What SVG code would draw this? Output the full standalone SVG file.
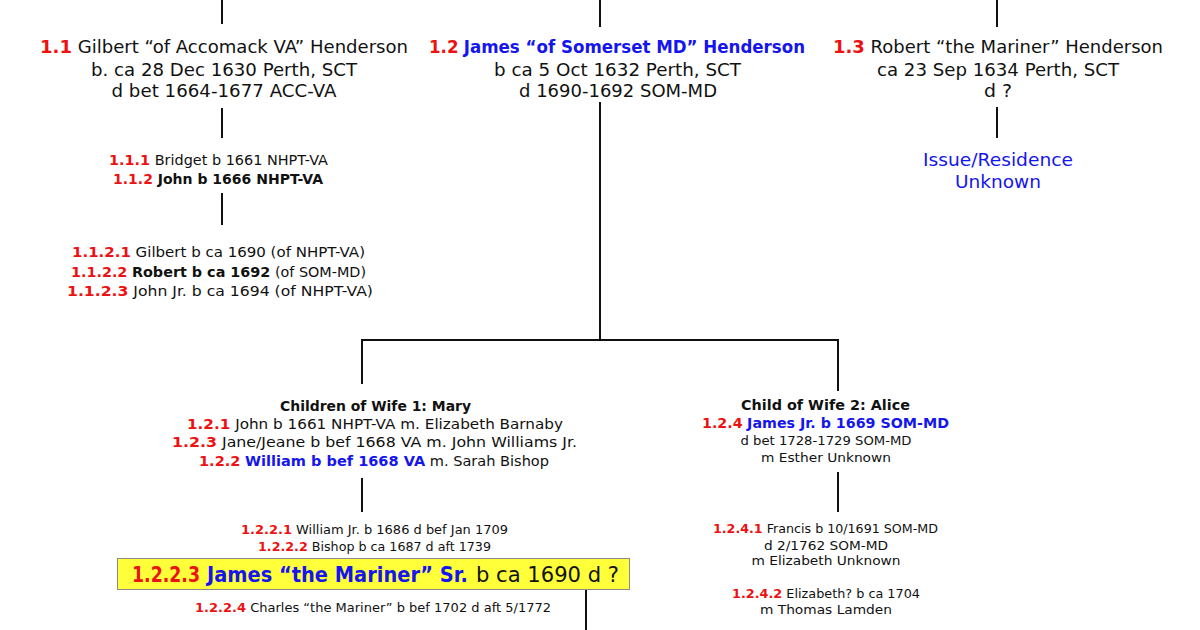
<svg xmlns="http://www.w3.org/2000/svg" width="1200" height="630" viewBox="0 0 1200 630">
<style>
text{font-family:"DejaVu Sans","Liberation Sans",sans-serif;fill:#111;text-anchor:middle}
.l{font-size:17px}
.m{font-size:14px}
.s{font-size:13px}
.x{font-size:21px;text-anchor:start}
.b{font-weight:700}
.r{fill:#ee1111;font-weight:700}
.u{fill:#1515ee}
.ub{fill:#1515ee;font-weight:700}
.ln{stroke:#111;stroke-width:2;fill:none}
</style>
<rect width="1200" height="630" fill="#fff"/>
<g id="connectors">
<line class="ln" x1="222" y1="0" x2="222" y2="24"/>
<line class="ln" x1="600" y1="0" x2="600" y2="27"/>
<line class="ln" x1="997" y1="0" x2="997" y2="27"/>
<line class="ln" x1="222" y1="108" x2="222" y2="138"/>
<line class="ln" x1="222" y1="193" x2="222" y2="225"/>
<line class="ln" x1="997" y1="107" x2="997" y2="138"/>
<path class="ln" d="M600 102V340M362 384V340H838V391"/>
<line class="ln" x1="362" y1="478" x2="362" y2="512"/>
<line class="ln" x1="838" y1="472" x2="838" y2="512"/>
<line class="ln" x1="586" y1="590" x2="586" y2="630"/>
</g>
<g id="n1_1">
<text class="l" x="224" y="53" textLength="368" lengthAdjust="spacingAndGlyphs"><tspan class="r">1.1</tspan> Gilbert “of Accomack VA” Henderson</text>
<text class="l" x="224" y="76" textLength="266" lengthAdjust="spacingAndGlyphs">b. ca 28 Dec 1630 Perth, SCT</text>
<text class="l" x="224" y="97" textLength="225" lengthAdjust="spacingAndGlyphs">d bet 1664-1677 ACC-VA</text>
</g>
<g id="n1_2">
<text class="l" x="617" y="53" textLength="376" lengthAdjust="spacingAndGlyphs"><tspan class="r">1.2</tspan> <tspan class="ub">James “of Somerset MD” Henderson</tspan></text>
<text class="l" x="617.5" y="76" textLength="247" lengthAdjust="spacingAndGlyphs">b ca 5 Oct 1632 Perth, SCT</text>
<text class="l" x="618" y="97" textLength="198" lengthAdjust="spacingAndGlyphs">d 1690-1692 SOM-MD</text>
</g>
<g id="n1_3">
<text class="l" x="998" y="53" textLength="330" lengthAdjust="spacingAndGlyphs"><tspan class="r">1.3</tspan> Robert “the Mariner” Henderson</text>
<text class="l" x="998" y="76" textLength="242" lengthAdjust="spacingAndGlyphs">ca 23 Sep 1634 Perth, SCT</text>
<text class="l" x="998" y="97" textLength="28" lengthAdjust="spacingAndGlyphs">d ?</text>
</g>
<g id="n1_3_issue">
<text class="l u" x="998" y="166" textLength="150" lengthAdjust="spacingAndGlyphs">Issue/Residence</text>
<text class="l u" x="998" y="188" textLength="86" lengthAdjust="spacingAndGlyphs">Unknown</text>
</g>
<g id="n1_1_children">
<text class="m" x="218.5" y="165" textLength="219" lengthAdjust="spacingAndGlyphs"><tspan class="r">1.1.1</tspan> Bridget b 1661 NHPT-VA</text>
<text class="m b" x="218" y="184" textLength="210" lengthAdjust="spacingAndGlyphs"><tspan class="r">1.1.2</tspan> John b 1666 NHPT-VA</text>
</g>
<g id="n1_1_2_children">
<text class="m" x="218.5" y="257" textLength="293" lengthAdjust="spacingAndGlyphs"><tspan class="r">1.1.2.1</tspan> Gilbert b ca 1690 (of NHPT-VA)</text>
<text class="m" x="218.5" y="277" textLength="295" lengthAdjust="spacingAndGlyphs"><tspan class="r">1.1.2.2</tspan> <tspan class="b">Robert b ca 1692</tspan> (of SOM-MD)</text>
<text class="m" x="220" y="296" textLength="306" lengthAdjust="spacingAndGlyphs"><tspan class="r">1.1.2.3</tspan> John Jr. b ca 1694 (of NHPT-VA)</text>
</g>
<g id="wife1">
<text class="m b" x="375.5" y="411" textLength="191" lengthAdjust="spacingAndGlyphs">Children of Wife 1: Mary</text>
<text class="m" x="375" y="429" textLength="376" lengthAdjust="spacingAndGlyphs"><tspan class="r">1.2.1</tspan> John b 1661 NHPT-VA m. Elizabeth Barnaby</text>
<text class="m" x="374.5" y="447" textLength="405" lengthAdjust="spacingAndGlyphs"><tspan class="r">1.2.3</tspan> Jane/Jeane b bef 1668 VA m. John Williams Jr.</text>
<text class="m" x="374" y="466" textLength="350" lengthAdjust="spacingAndGlyphs"><tspan class="r">1.2.2</tspan> <tspan class="ub">William b bef 1668 VA</tspan> m. Sarah Bishop</text>
</g>
<g id="wife2">
<text class="m b" x="825.5" y="410" textLength="169" lengthAdjust="spacingAndGlyphs">Child of Wife 2: Alice</text>
<text class="m" x="825.5" y="428" textLength="247" lengthAdjust="spacingAndGlyphs"><tspan class="r">1.2.4</tspan> <tspan class="ub">James Jr. b 1669 SOM-MD</tspan></text>
<text class="s" x="826" y="445" textLength="171" lengthAdjust="spacingAndGlyphs">d bet 1728-1729 SOM-MD</text>
<text class="s" x="826" y="462" textLength="130" lengthAdjust="spacingAndGlyphs">m Esther Unknown</text>
</g>
<g id="n1_2_2_children">
<text class="s" x="374.5" y="534" textLength="267" lengthAdjust="spacingAndGlyphs"><tspan class="r">1.2.2.1</tspan> William Jr. b 1686 d bef Jan 1709</text>
<text class="s" x="374.5" y="551" textLength="233" lengthAdjust="spacingAndGlyphs"><tspan class="r">1.2.2.2</tspan> Bishop b ca 1687 d aft 1739</text>
<text class="s" x="373" y="612" textLength="356" lengthAdjust="spacingAndGlyphs"><tspan class="r">1.2.2.4</tspan> Charles “the Mariner” b bef 1702 d aft 5/1772</text>
</g>
<g id="n1_2_2_3">
<rect x="117.5" y="558.5" width="512" height="31" fill="#ffff3a" stroke="#8a8a8a" stroke-width="1"/>
<text class="x r" x="132" y="582" textLength="68" lengthAdjust="spacingAndGlyphs">1.2.2.3</text>
<text class="x ub" x="207" y="582" textLength="261" lengthAdjust="spacingAndGlyphs">James “the Mariner” Sr.</text>
<text class="x" x="476" y="582" textLength="143" lengthAdjust="spacingAndGlyphs">b ca 1690 d ?</text>
</g>
<g id="n1_2_4_children">
<text class="s" x="825.5" y="533" textLength="225" lengthAdjust="spacingAndGlyphs"><tspan class="r">1.2.4.1</tspan> Francis b 10/1691 SOM-MD</text>
<text class="s" x="826" y="550" textLength="124" lengthAdjust="spacingAndGlyphs">d 2/1762 SOM-MD</text>
<text class="s" x="826" y="565" textLength="149" lengthAdjust="spacingAndGlyphs">m Elizabeth Unknown</text>
<text class="s" x="826" y="598" textLength="188" lengthAdjust="spacingAndGlyphs"><tspan class="r">1.2.4.2</tspan> Elizabeth? b ca 1704</text>
<text class="s" x="826" y="614" textLength="132" lengthAdjust="spacingAndGlyphs">m Thomas Lamden</text>
</g>
</svg>
